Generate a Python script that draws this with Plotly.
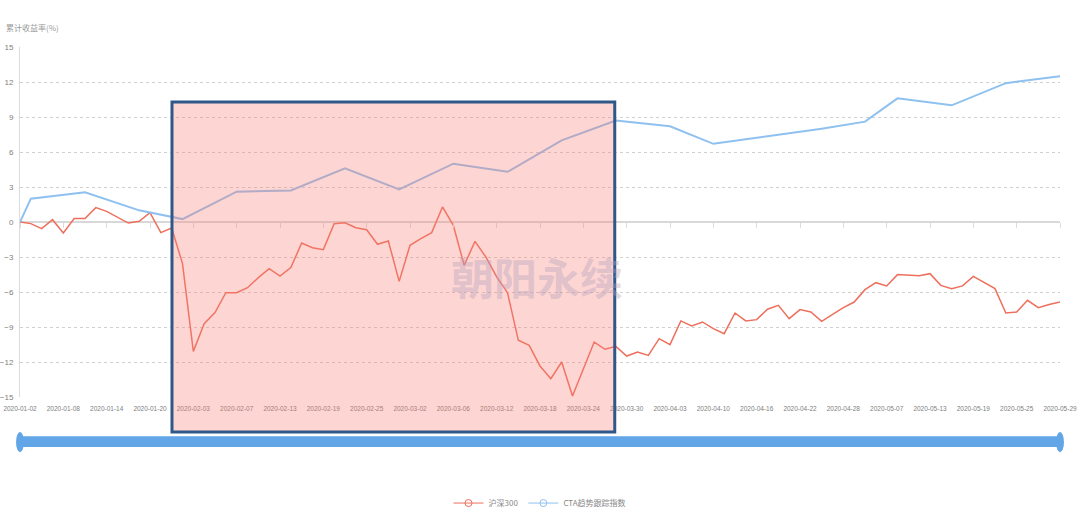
import plotly.graph_objects as go

# ---- data ----
jan = ["02","03","06","07","08","09","10","13","14","15","16","17","20","21","22","23"]
feb = ["03","04","05","06","07","10","11","12","13","14","17","18","19","20","21","24","25","26","27","28"]
mar = ["02","03","04","05","06","09","10","11","12","13","16","17","18","19","20","23","24","25","26","27","30","31"]
apr = ["01","02","03","07","08","09","10","13","14","15","16","17","20","21","22","23","24","27","28","29","30"]
may = ["06","07","08","11","12","13","14","15","18","19","20","21","22","25","26","27","28","29"]
dates = ([f"2020-01-{d}" for d in jan] + [f"2020-02-{d}" for d in feb] +
         [f"2020-03-{d}" for d in mar] + [f"2020-04-{d}" for d in apr] +
         [f"2020-05-{d}" for d in may])

hs300 = [0, -0.14, -0.57, 0.2, -0.94, 0.29, 0.29, 1.23, 0.91, 0.43,
         -0.09, 0.06, 0.8, -0.91, -0.51, -3.57, -11.09, -8.71, -7.77, -6.06,
         -6.06, -5.63, -4.77, -4.0, -4.63, -3.91, -1.8, -2.2, -2.37, -0.14,
         -0.06, -0.49, -0.66, -1.91, -1.63, -5.09, -2.0, -1.43, -0.91, 1.29,
         -0.29, -3.71, -1.66, -3.0, -4.71, -6.06, -10.14, -10.57, -12.34, -13.43,
         -12.0, -14.91, -12.57, -10.29, -10.91, -10.66, -11.49, -11.14, -11.43, -10.0,
         -10.51, -8.48, -8.91, -8.57, -9.14, -9.57, -7.8, -8.48, -8.37, -7.48,
         -7.14, -8.28, -7.51, -7.71, -8.51, -7.91, -7.34, -6.86, -5.8, -5.2,
         -5.48, -4.51, -4.57, -4.6, -4.43, -5.43, -5.71, -5.48, -4.66, -5.2,
         -5.71, -7.8, -7.71, -6.71, -7.34, -7.08, -6.86]

cta_dates = ["2020-01-02", "2020-01-03", "2020-01-10", "2020-01-17", "2020-01-23",
             "2020-02-07", "2020-02-14", "2020-02-21", "2020-02-28", "2020-03-06",
             "2020-03-13", "2020-03-20", "2020-03-27", "2020-04-03", "2020-04-10",
             "2020-04-17", "2020-04-24", "2020-04-30", "2020-05-08", "2020-05-15",
             "2020-05-22", "2020-05-29"]
cta = [0, 2.0, 2.55, 1.0, 0.25, 2.6, 2.7, 4.6, 2.8, 5.0,
       4.3, 7.0, 8.7, 8.2, 6.7, 7.35, 8.0, 8.6, 10.6, 10.0,
       11.9, 12.5]

y_ticks = [-15, -12, -9, -6, -3, 0, 3, 6, 9, 12, 15]
x_ticks = dates[::4]
highlight = ("2020-01-23", "2020-03-27")
y_range = [-15, 15]

RED = "#ee6f5c"
BLUE = "#8ec1ef"

fig = go.Figure()
fig.add_trace(go.Scatter(x=dates, y=hs300, mode="lines", name="沪深300",
                         line=dict(color=RED, width=1.5), showlegend=False))
fig.add_trace(go.Scatter(x=cta_dates, y=cta, mode="lines", name="CTA趋势跟踪指数",
                         line=dict(color=BLUE, width=2), connectgaps=True, showlegend=False))
# invisible trace so the zero-line tick axis (x2) is drawn
fig.add_trace(go.Scatter(x=dates, y=[None] * len(dates), xaxis="x2", mode="lines",
                         showlegend=False, hoverinfo="skip"))
# legend entries
fig.add_trace(go.Scatter(x=[None], y=[None], mode="lines+markers", name="沪深300",
                         line=dict(color=RED, width=1),
                         marker=dict(symbol="circle-open", size=7, color=RED, line=dict(width=1))))
fig.add_trace(go.Scatter(x=[None], y=[None], mode="lines+markers", name="CTA趋势跟踪指数",
                         line=dict(color=BLUE, width=1),
                         marker=dict(symbol="circle-open", size=7, color=BLUE, line=dict(width=1))))

# highlight rectangle (over the lines, semi-transparent)
fig.add_shape(type="rect", xref="x", yref="paper",
              x0=dates.index(highlight[0]) - 1 + 0.03, x1=dates.index(highlight[1]) - 0.1,
              y0=-0.1, y1=0.843, layer="above",
              fillcolor="rgba(250,128,118,0.33)",
              line=dict(color="#2f5889", width=3))

# data-zoom slider decoration
fig.add_shape(type="rect", xref="paper", yref="paper", x0=0, x1=1, y0=-0.143, y1=-0.112,
              fillcolor="#62a6e8", line=dict(width=0), layer="above")
for xp in (0, 1):
    fig.add_shape(type="circle", xref="paper", yref="paper",
                  x0=xp - 0.0038, x1=xp + 0.0038, y0=-0.158, y1=-0.1,
                  fillcolor="#62a6e8", line=dict(width=0), layer="above")

fig.add_annotation(text="朝阳永续", xref="paper", yref="paper", x=0.497, y=0.345,
                   showarrow=False,
                   font=dict(family="Noto Sans CJK SC", size=43, color="rgba(180,160,190,0.4)",
                             weight="bold"))
fig.add_annotation(text="累计收益率(%)", xref="paper", yref="paper", x=-0.015, y=1.057,
                   xanchor="left", yanchor="middle", showarrow=False,
                   font=dict(family="Noto Sans CJK SC", size=8, color="#9a9a9a"))

fig.update_layout(
    width=1080, height=518,
    margin=dict(l=20, r=20, t=47, b=121, autoexpand=False),
    paper_bgcolor="white", plot_bgcolor="white",
    font=dict(family="Liberation Sans, Arial, sans-serif", color="#777"),
    legend=dict(orientation="h", x=0.5, xanchor="center", y=-0.303, yanchor="middle",
                font=dict(family="Noto Sans CJK SC", size=8, color="#888"),
                itemwidth=30, bgcolor="rgba(0,0,0,0)"),
    xaxis=dict(type="category", categoryorder="array", categoryarray=dates,
               range=[0, len(dates) - 1], tickmode="array", tickvals=x_ticks, ticktext=x_ticks,
               tickangle=0, showgrid=False, zeroline=False, showline=False, automargin=False,
               ticks="", tickfont=dict(size=6.5, color="#808080"), ticklabelstandoff=6),
    xaxis2=dict(type="category", categoryorder="array", categoryarray=dates,
                overlaying="x", anchor="free",
                position=(0 - y_range[0]) / (y_range[1] - y_range[0]), side="bottom",
                range=[0, len(dates) - 1], tickmode="array", tickvals=x_ticks,
                showticklabels=False, ticks="outside", ticklen=5, tickwidth=1, tickcolor="#dcdcdc",
                showgrid=False, zeroline=False, showline=False, automargin=False),
    yaxis=dict(range=y_range, tickvals=y_ticks, showgrid=True, automargin=False,
               gridcolor="#d0d0d0", griddash="dot", gridwidth=1,
               zeroline=True, zerolinecolor="#d8d8d8", zerolinewidth=2,
               showline=True, linecolor="#dcdcdc", linewidth=1,
               ticks="", tickfont=dict(size=8, color="#808080"), ticklabelstandoff=4),
)

fig.write_html("out.html")
